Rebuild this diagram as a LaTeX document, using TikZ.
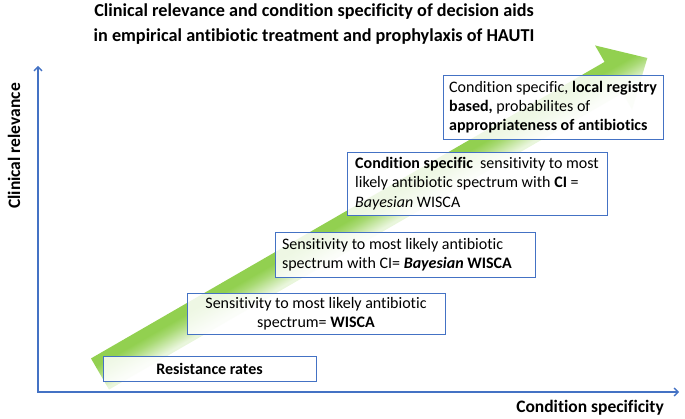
\documentclass[tikz,border=0pt]{standalone}
\usepackage{fontspec}
\setmainfont{Carlito}[Ligatures=NoCommon]
\usepackage{xcolor}
\usetikzlibrary{
    arrows.meta,
    positioning
}
\definecolor{boxblue}{RGB}{68,114,196}
\definecolor{arrowgreen}{RGB}{146,208,80}
\tikzset{
  aid/.style    = {draw=boxblue, line width=0.9pt, fill=white,
                   fill opacity=0.85, text opacity=1,
                   inner xsep=7pt, inner ysep=2pt,
                   font=\fontsize{16}{19.3}\selectfont},
  axisline/.style = {draw=boxblue, line width=1.3pt,
                   {Straight Barb[length=4pt,width=8pt]}-{Straight Barb[length=4pt,width=8pt]}},
  ttl/.style    = {font=\bfseries\fontsize{18.2}{25}\selectfont, align=center},
  axlbl/.style  = {font=\bfseries\fontsize{17.5}{20}\selectfont}
}
% pale on the lower right side of the arrow, green on the upper left side
\pgfdeclareverticalshading{arrowfade}{100bp}{%
  color(0bp)=(arrowgreen!20); color(40bp)=(arrowgreen!20);
  color(51bp)=(arrowgreen!80); color(56bp)=(arrowgreen);
  color(100bp)=(arrowgreen)}

\begin{document}
\begin{tikzpicture}[x=1pt, y=-1pt]
\useasboundingbox (0,0) rectangle (685,419);

%% Title
\node[ttl] (title) at (314,24.5) {Clinical relevance and condition specificity of decision aids\\
  in empirical antibiotic treatment and prophylaxis of HAUTI};

%% Axes
\coordinate (origin) at (38,392);
\coordinate (ytop)   at (38,66);
\coordinate (xend)   at (679,392);
\draw[axisline] (ytop) -- (origin) -- (xend);
\node[axlbl, rotate=90] (ylab) at (14,146) {Clinical relevance};
\node[axlbl] (xlab) at (590,408) {Condition specificity};

%% Big arrow behind the boxes (tail at (100,374), 30 degrees up)
\begin{scope}[transform canvas={shift={(100,374)}, rotate=30}]
  \shade[shading=arrowfade]
    (0pt,18pt) -- (593pt,18pt) -- (593pt,37pt) -- (632pt,0pt)
    -- (593pt,-37pt) -- (593pt,-18pt) -- (0pt,-18pt) -- cycle;
\end{scope}

%% Decision aids, bottom to top
\node[aid, minimum width=213, minimum height=25, align=center]
  (res) at (209.5,368.5) {\textbf{Resistance rates}};
\node[aid, minimum width=258, minimum height=41, align=center]
  (wisca) at (316,313.5) {Sensitivity to most likely antibiotic\\
  spectrum= \textbf{WISCA}};
\node[aid, text width=246, minimum height=45, align=flush left]
  (bayes) at (405,254.5) {Sensitivity to most likely antibiotic\\
  spectrum with CI= \textbf{\textit{Bayesian}} \textbf{WISCA}};
\node[aid, minimum width=260, minimum height=63, align=left]
  (cond) at (477,183.5) {\textbf{Condition specific}~ sensitivity to most\\
  likely antibiotic spectrum with \textbf{CI} =\\
  \textit{Bayesian} WISCA};
\node[aid, inner xsep=5pt, minimum width=220, minimum height=64, align=left]
  (local) at (553,107) {Condition specific, \textbf{local registry}\\
  \textbf{based,} probabilites of\\
  \textbf{appropriateness of antibiotics}};

\end{tikzpicture}
\end{document}
